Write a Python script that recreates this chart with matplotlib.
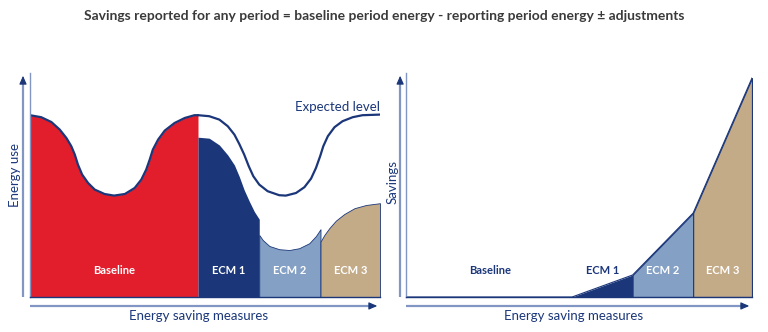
import matplotlib
matplotlib.use("Agg")
import matplotlib.pyplot as plt

plt.rcParams['font.family'] = ['Lato', 'DejaVu Sans']

RED = '#E21E2D'
NAVY = '#1B377A'
LIGHT = '#84A0C4'
TAN = '#C4AB88'
AXIS = '#8196C2'

# segment boundaries (energy saving measures axis, 0..100)
bounds = [0, 48, 65.5, 83, 100]
seg_names = ['Baseline', 'ECM 1', 'ECM 2', 'ECM 3']

# left panel: energy use curves
base_x = [0, 3.2, 6.1, 8.5, 10.4, 11.8, 12.8, 13.7, 14.9, 16.6, 18.5, 21.3, 24,
          27.1, 29.9, 31.8, 33.2, 34.2, 35.1, 36.6, 38.5, 41.3, 44.2, 47, 48]
base_y = [90.9, 89.9, 87.5, 83.7, 79.5, 75.4, 71.2, 66.2, 61.2, 57, 53.7, 51.5, 50.7,
          51.5, 54.5, 58.7, 63.7, 68.7, 73.7, 78.7, 83.2, 87, 89.5, 90.9, 90.9]

exp_x = [48, 51.2, 54.1, 56.5, 58.4, 59.8, 61.2, 62.5, 63.8, 65.5, 67.9, 71.2, 73.1,
         76, 78.4, 80.3, 81.7, 82.9, 83.8, 85.1, 87, 89.3, 92.2, 95, 100]
exp_y = [90.9, 90.4, 88.7, 85.4, 81.2, 76.5, 71.2, 65.4, 60.4, 56.2, 52.9, 50.9, 50.7,
         52, 54.9, 59.2, 64.5, 70.4, 75.4, 80.4, 84.9, 87.9, 89.9, 90.9, 91.2]

ecm1_x = [48, 51.2, 54.1, 56.5, 58.4, 59.8, 61.2, 62.7, 64.1, 65.5]
ecm1_y = [79.9, 79.4, 76, 71, 66, 60.2, 53.5, 47.7, 42.7, 38.9]

ecm2_x = [65.5, 66.5, 68.4, 71.2, 74.1, 76.9, 79.8, 81.7, 83]
ecm2_y = [31, 28.5, 25.5, 23.9, 23.5, 24.4, 26.9, 30.5, 33.9]

ecm3_x = [83, 84.1, 85.5, 87.4, 89.8, 92.7, 96, 100]
ecm3_y = [27.7, 31, 34.4, 38.2, 41.5, 44.4, 46, 46.9]

# right panel: cumulative savings
sav_x = [0, 48, 65.5, 83, 100]
sav_y = [0, 0, 11, 42, 109.5]

fig = plt.figure(figsize=(7.68, 3.32), dpi=100)
fig.text(0.5, 1 - 16 / 332,
         'Savings reported for any period = baseline period energy - reporting period energy \u00b1 adjustments',
         ha='center', va='center', fontsize=10, fontweight='bold', color='#3a3a3a')

axL = fig.add_axes([30 / 768, 35 / 332, 350 / 768, 224 / 332])
axR = fig.add_axes([406 / 768, 35 / 332, 346 / 768, 224 / 332])


def setup(ax, xarrow_off, ylab, ylab_x, ylab_y):
    ax.set_xlim(0, 100)
    ax.set_ylim(0, 112)
    ax.set_xticks([])
    ax.set_yticks([])
    for s in ['top', 'right']:
        ax.spines[s].set_visible(False)
    ax.spines['left'].set_color(AXIS)
    ax.spines['left'].set_linewidth(1.0)
    ax.spines['bottom'].set_color(NAVY)
    ax.spines['bottom'].set_linewidth(1.0)
    ax.patch.set_alpha(0)
    # y arrow
    ax.plot([xarrow_off, xarrow_off], [0, 0.97], transform=ax.transAxes,
            color=AXIS, lw=1.6, clip_on=False, solid_capstyle='butt')
    ax.annotate('', xy=(xarrow_off, 1.0), xytext=(xarrow_off, 0.96),
                xycoords='axes fraction',
                arrowprops=dict(arrowstyle='-|>,head_length=0.5,head_width=0.22',
                                color=NAVY, lw=0.8), annotation_clip=False)
    # x arrow
    ax.plot([0, 0.985], [-0.04, -0.04], transform=ax.transAxes,
            color=AXIS, lw=1.6, clip_on=False, solid_capstyle='butt')
    ax.annotate('', xy=(1.0, -0.04), xytext=(0.975, -0.04),
                xycoords='axes fraction',
                arrowprops=dict(arrowstyle='-|>,head_length=0.5,head_width=0.22',
                                color=NAVY, lw=0.8), annotation_clip=False)
    ax.text(0.483, -0.085, 'Energy saving measures', transform=ax.transAxes,
            ha='center', va='center', fontsize=9.5, color=NAVY)
    ax.text(ylab_x, ylab_y, ylab, transform=ax.transAxes, rotation=90,
            ha='center', va='center', fontsize=9.5, color=NAVY)


# ---- left panel
setup(axL, -0.02, 'Energy use', -0.043, 0.545)
axL.fill_between(base_x, base_y, color=RED, lw=0)
axL.fill_between(ecm1_x, ecm1_y, color=NAVY, lw=0)
axL.fill_between(ecm2_x, ecm2_y, color=LIGHT, edgecolor=NAVY, lw=0.6)
axL.fill_between(ecm3_x, ecm3_y, color=TAN, edgecolor=NAVY, lw=0.6)
axL.plot(base_x, base_y, color=NAVY, lw=1.6, solid_capstyle='round', solid_joinstyle='round')
axL.plot(exp_x, exp_y, color=NAVY, lw=1.6, solid_capstyle='round', solid_joinstyle='round')
axL.text(100, 95, 'Expected level', ha='right', va='center', fontsize=9.5, color=NAVY)

centers = [(bounds[i] + bounds[i + 1]) / 2 for i in range(4)]
label_x = [24, centers[1], centers[2], centers[3]]
for lx, name in zip(label_x, seg_names):
    axL.text(lx, 13, name, ha='center', va='center', fontsize=8,
             fontweight='bold', color='white')

# ---- right panel
setup(axR, -0.017, 'Savings', -0.04, 0.513)
seg_cols = [None, NAVY, LIGHT, TAN]
for i in range(1, 4):
    xs = [x for x in sav_x if bounds[i] <= x <= bounds[i + 1]]
    ys = [sav_y[sav_x.index(x)] for x in xs]
    axR.fill_between(xs, ys, color=seg_cols[i], edgecolor=NAVY,
                     lw=0.0 if i == 1 else 0.8)
axR.plot(sav_x, sav_y, color=NAVY, lw=0.8)
axR.plot([100, 100], [0, sav_y[-1]], color=NAVY, lw=0.8)
r_label_x = [24.3, 56.9, 74.3, 91.6]
r_label_c = [NAVY, NAVY, 'white', 'white']
for lx, name, c in zip(r_label_x, seg_names, r_label_c):
    axR.text(lx, 13, name, ha='center', va='center', fontsize=8,
             fontweight='bold', color=c)

fig.savefig('out.png', dpi=100)
